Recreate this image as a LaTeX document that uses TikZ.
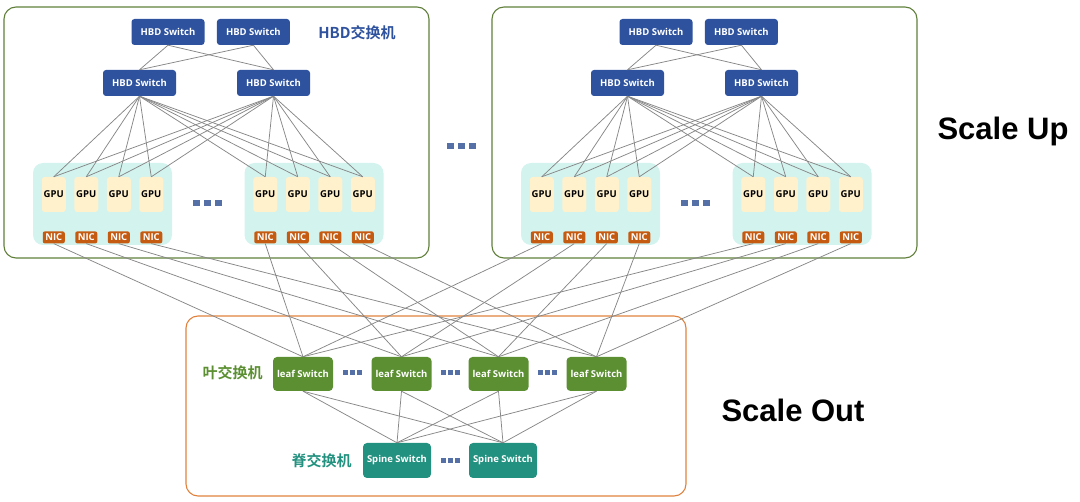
\documentclass[tikz,border=0pt]{standalone}
\usepackage{fontspec}
\setmainfont{Open Sans}
\newfontfamily\cjk{Noto Sans CJK SC}[BoldFont={Noto Sans CJK SC Bold}]
\newfontfamily\bigfont{Liberation Sans}
\usepackage{tikz}
\usetikzlibrary{positioning}

\definecolor{hbdblue}{HTML}{2E529E}
\definecolor{upgreen}{HTML}{5F7F3A}
\definecolor{grpcyan}{HTML}{D3F3EF}
\definecolor{gpucream}{HTML}{FFF1CC}
\definecolor{nicorange}{HTML}{C55A11}
\definecolor{outorange}{HTML}{E0823D}
\definecolor{leafgreen}{HTML}{5B8F31}
\definecolor{spineteal}{HTML}{23917F}
\definecolor{dotblue}{HTML}{5470A6}
\definecolor{linkgray}{HTML}{878787}

\tikzset{
  upbox/.style={draw=upgreen, line width=1.1pt, rounded corners=12pt, minimum width=425pt, minimum height=251pt},
  outbox/.style={draw=outorange, line width=1.1pt, rounded corners=12pt, minimum width=500pt, minimum height=180pt},
  grp/.style={fill=grpcyan, rounded corners=10pt, minimum width=139pt, minimum height=82pt},
  hbd/.style={fill=hbdblue, text=white, rounded corners=3pt, minimum width=73pt, minimum height=26pt},
  gpu/.style={fill=gpucream, rounded corners=3pt, minimum width=24pt, minimum height=35pt},
  nic/.style={fill=nicorange, text=white, rounded corners=2pt, minimum width=22pt, minimum height=12pt},
  leaf/.style={fill=leafgreen, text=white, rounded corners=4pt, minimum width=60pt, minimum height=34pt},
  spine/.style={fill=spineteal, text=white, rounded corners=4pt, minimum width=68pt, minimum height=35pt},
  link/.style={draw=linkgray, line width=0.75pt},
  tag/.style={font=\cjk\bfseries\fontsize{15}{16}\selectfont},
  scale label/.style={font=\bigfont\bfseries\fontsize{31}{33}\selectfont}
}

\begin{document}
\begin{tikzpicture}[x=1pt, y=-1pt, every node/.style={inner sep=0pt, font=\bfseries\fontsize{9.5}{10}\selectfont}]
\useasboundingbox (0,0) rectangle (1080,502);
\foreach \b/\o in {1/0, 2/488}{
\node[upbox] (box\b) at (216.5+\o,132.5) {};
\node[hbd] (top\b1) at (168+\o,32) {HBD Switch};
\node[hbd, right = 12pt of top\b1] (top\b2) {HBD Switch};
\node[hbd] (low\b1) at (139.5+\o,83) {HBD Switch};
\node[hbd] (low\b2) at (273.5+\o,83) {HBD Switch};
\foreach \g/\c in {1/102.5, 2/314}{
\node[grp] (grp\b\g) at (\c+\o,204) {};
\foreach \k in {1,...,4}{
\node[gpu] (gpu\b\g\k) at (\c+\o+32.5*\k-81.25,194.5) {GPU};
\node[nic, below = 19pt of gpu\b\g\k] (nic\b\g\k) {NIC};}}
\foreach \d in {-1,0,1}{
\fill[dotblue] (207.5+\o+11*\d-3.25,203-3.25) rectangle ++(6.5,6.5);}
}
\node[tag, text=hbdblue] (hbdtag) at (357,33) {HBD交换机};
\foreach \d in {-1,0,1}{
\fill[dotblue] (461.5+11*\d-3.25,146-3.25) rectangle ++(6.5,6.5);}

\node[outbox] (outbox) at (436,406) {};
\foreach \k/\x in {1/303, 2/401.5, 3/498.5, 4/596.5}{
\node[leaf] (leaf\k) at (\x,374) {leaf Switch};}
\node[spine] (spine1) at (397,460.5) {Spine Switch};
\node[spine] (spine2) at (503,460.5) {Spine Switch};
\node[tag, text=leafgreen] (leaftag) at (232.5,373) {叶交换机};
\node[tag, text=spineteal] (spinetag) at (321.5,461) {脊交换机};
\foreach \x/\y in {352.5/373, 450/373, 547.5/373, 450/461}{
\foreach \d in {-1,0,1}{
\fill[dotblue] (\x+7*\d-2.5,\y-2.5) rectangle ++(5,5);}}

\node[scale label] (scaleup) at (1003,131) {Scale Up};
\node[scale label] (scaleout) at (793,410) {Scale Out};

\foreach \b in {1,2}{
\foreach \t in {1,2}{\foreach \l in {1,2}{
\draw[link] (top\b\t.south) -- (low\b\l.north);}}
\foreach \l in {1,2}{\foreach \g in {1,2}{\foreach \k in {1,...,4}{
\draw[link] (low\b\l.south) -- (gpu\b\g\k.north);}}}
\foreach \g in {1,2}{\foreach \k in {1,...,4}{
\draw[link] (nic\b\g\k.south) -- (leaf\k.north);}}
}
\foreach \k in {1,...,4}{\foreach \s in {1,2}{
\draw[link] (leaf\k.south) -- (spine\s.north);}}
\end{tikzpicture}
\end{document}
